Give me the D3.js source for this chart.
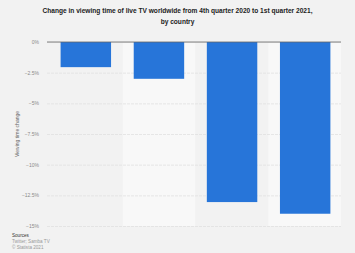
<!DOCTYPE html>
<html>
<head>
<meta charset="utf-8">
<script src="https://cdn.jsdelivr.net/npm/d3@7"></script>
<style>
  body { margin: 0; background: #f2f2f2; }
  svg { display: block; font-family: "Liberation Sans", Arial, sans-serif; }
</style>
</head>
<body>
<div id="chart"></div>
<script>
// chart values
const countries = ["Country A", "Country B", "Country C", "Country D"];
const changes = [-2.05, -3.0, -13.05, -14.0];
const yTicks = [0, -2.5, -5, -7.5, -10, -12.5, -15];
const titleLines = [
  "Change in viewing time of live TV worldwide from 4th quarter 2020 to 1st quarter 2021,",
  "by country"
];
const sourceLines = ["Sources", "Twitter; Samba TV", "© Statista 2021"];

const W = 355, H = 253;
const margin = {top: 42, right: 14, bottom: 27, left: 50};

const svg = d3.select("#chart").append("svg")
  .attr("width", W)
  .attr("height", H);

svg.append("rect").attr("width", W).attr("height", H).attr("fill", "#f2f2f2");

const x = d3.scaleBand()
  .domain(countries)
  .range([margin.left, W - margin.right])
  .paddingInner(0.31)
  .paddingOuter(0.145);

const y = d3.scaleLinear()
  .domain([0, -15])
  .range([margin.top, H - margin.bottom]);

// alternating column bands
const step = (W - margin.right - margin.left) / countries.length;
svg.selectAll("rect.band")
  .data(countries)
  .join("rect")
  .attr("class", "band")
  .attr("x", (d, i) => margin.left + i * step)
  .attr("y", y(0))
  .attr("width", step)
  .attr("height", y(-15) - y(0))
  .attr("fill", (d, i) => i % 2 ? "#f8f8f8" : "#f2f2f2");

// y axis with gridlines
const yAxis = d3.axisLeft(y)
  .tickValues(yTicks)
  .tickFormat(d => d === 0 ? "0%" : d3.format("")(d) + "%")
  .tickSize(-(W - margin.right - margin.left + 3))
  .tickPadding(8);

const gy = svg.append("g")
  .attr("transform", `translate(${margin.left - 3},0)`)
  .call(yAxis);
gy.select(".domain").remove();
gy.selectAll(".tick line")
  .attr("stroke", "#dedede")
  .attr("stroke-width", 0.7)
  .attr("stroke-dasharray", d => d === 0 ? null : "3,1");
gy.selectAll(".tick text")
  .attr("fill", "#8a8a8a")
  .attr("font-size", 5);

// bars
svg.selectAll("rect.bar")
  .data(countries)
  .join("rect")
  .attr("class", "bar")
  .attr("x", d => x(d))
  .attr("y", y(0))
  .attr("width", x.bandwidth())
  .attr("height", (d, i) => y(changes[i]) - y(0))
  .attr("fill", "#2775d9");

// zero line
svg.append("line")
  .attr("x1", margin.left - 3)
  .attr("x2", W - margin.right)
  .attr("y1", y(0))
  .attr("y2", y(0))
  .attr("stroke", "#666")
  .attr("stroke-width", 0.8);

// axis title
svg.append("text")
  .attr("transform", `translate(19,${(y(0) + y(-15)) / 2}) rotate(-90)`)
  .attr("text-anchor", "middle")
  .attr("font-size", 5)
  .attr("fill", "#666")
  .text("Viewing time change");

// title
svg.selectAll("text.title")
  .data(titleLines)
  .join("text")
  .attr("class", "title")
  .attr("x", W / 2)
  .attr("y", (d, i) => 13 + i * 11)
  .attr("text-anchor", "middle")
  .attr("font-size", 6.6)
  .attr("font-weight", "bold")
  .attr("fill", "#222")
  .text(d => d);

// source
svg.selectAll("text.src")
  .data(sourceLines)
  .join("text")
  .attr("class", "src")
  .attr("x", 12)
  .attr("y", (d, i) => 236.5 + i * 6.3)
  .attr("font-size", 4.6)
  .attr("fill", (d, i) => i ? "#999" : "#333")
  .text(d => d);
</script>
</body>
</html>
